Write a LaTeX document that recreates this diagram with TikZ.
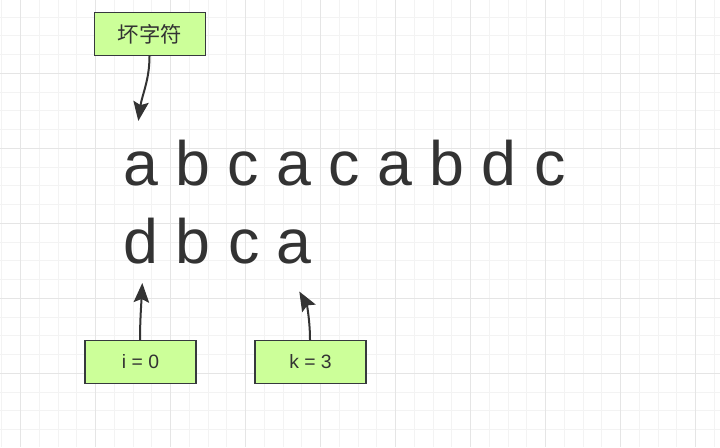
\documentclass[tikz,border=0pt]{standalone}
\usepackage{fontspec}
\setmainfont{Liberation Sans}
\newfontfamily\cjk{Noto Sans CJK SC}
\usetikzlibrary{arrows.meta}
\definecolor{txt}{HTML}{333333}
\definecolor{boxfill}{HTML}{CCFF99}
\definecolor{boxline}{HTML}{36393D}
\definecolor{gridminor}{HTML}{F3F3F3}
\definecolor{gridmajor}{HTML}{E5E5E5}
\tikzset{
  label box/.style={draw=boxline, fill=boxfill, line width=0.8pt, minimum width=83.25pt, minimum height=32.5pt, inner sep=0pt, text=txt, font=\fontsize{14.5}{16}\selectfont},
  big text/.style={inner sep=0pt, anchor=base west, text=txt, font=\fontsize{47}{50}\selectfont},
  pointer/.style={draw=txt, line width=1.5pt, -{Stealth[length=14.5pt,width=11.5pt,inset=2.5pt]}}
}
\begin{document}
\begin{tikzpicture}[x=0.75pt,y=-0.75pt]
\useasboundingbox (0,0) rectangle (720,447);
\fill[white] (0,0) rectangle (720,447);
% grid
\begin{scope}
\clip (0,0) rectangle (720,447);
\foreach \i in {0,...,39} {
  \pgfmathsetmacro\xx{1.75+18.75*\i}
  \draw[gridminor, line width=0.75pt] (\xx,0) -- (\xx,447);
}
\foreach \i in {0,...,24} {
  \pgfmathsetmacro\yy{-1.7+18.75*\i}
  \draw[gridminor, line width=0.75pt] (0,\yy) -- (720,\yy);
}
\foreach \i in {0,...,9} {
  \pgfmathsetmacro\xx{20.5+75*\i}
  \draw[gridmajor, line width=0.75pt] (\xx,0) -- (\xx,447);
}
\foreach \i in {0,...,6} {
  \pgfmathsetmacro\yy{-1.7+75*\i}
  \draw[gridmajor, line width=0.75pt] (0,\yy) -- (720,\yy);
}
\end{scope}
% text rows
\node[big text] (row1) at (123,185) {a b c a c a b d c};
\node[big text] (row2) at (123.5,263.3) {d b c a};
% boxes
\node[label box, font=\cjk\fontsize{16}{18}\selectfont] (bad) at (149.7,34) {坏字符};
\node[label box] (ibox) at (140.5,362) {i = 0};
\node[label box] (kbox) at (310.5,362) {k = 3};
% pointer tips
\coordinate (badtip) at (138.3,121);
\coordinate (itip) at (142.3,283);
\coordinate (ktip) at (299.3,291.5);
% connectors
\draw[pointer] (bad.south -| 149.5,0) .. controls (149.5,80) and (142,95) .. (badtip);
\draw[pointer] (ibox.north -| 140,0) .. controls (140,320) and (141.5,300) .. (itip);
\draw[pointer] (kbox.north -| 310,0) .. controls (310,322) and (307,305) .. (ktip);
\end{tikzpicture}
\end{document}
